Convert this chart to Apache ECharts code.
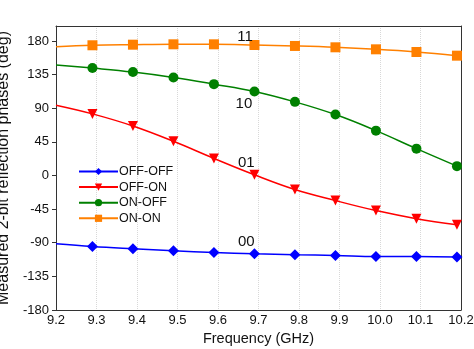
<!DOCTYPE html>
<html><head><meta charset="utf-8">
<script src="https://cdn.jsdelivr.net/npm/echarts@6/dist/echarts.min.js"></script>
<style>html,body{margin:0;padding:0;background:#fff}#c{width:474px;height:349px}</style>
</head><body><div id="c"></div>
<script>
var freqs = [9.2, 9.29, 9.39, 9.49, 9.59, 9.69, 9.79, 9.89, 9.99, 10.09, 10.19];
var offOff = [-91.4, -95, -98, -100.7, -103, -104.8, -106.1, -107, -108.4, -108.4, -109.2];
var offOn = [94, 82.4, 66.2, 45.7, 22.8, 0.9, -18.8, -33.6, -47, -57.8, -65.8];
var onOff = [147.8, 143.7, 138.4, 131.2, 122.2, 112.4, 98.5, 81.5, 60, 35.9, 12.5];
var onOn = [172.3, 174.2, 175, 175.5, 175.5, 174.6, 173.3, 171.5, 168.8, 165.2, 160.3];
var seriesNames = ['OFF-OFF', 'OFF-ON', 'ON-OFF', 'ON-ON'];
var stateLabels = ['00', '01', '10', '11'];
var labelPos = [[9.67, -88.7], [9.67, 17.4], [9.664, 95.4], [9.667, 185.5]];
var xTicks = ['9.2','9.3','9.4','9.5','9.6','9.7','9.8','9.9','10.0','10.1','10.2'];

var colors = ['#0000ff', '#ff0000', '#008000', '#ff8000'];
var symbols = ['diamond', 'triangle', 'circle', 'rect'];
var sizes = [11, 10, 10, 10];
var allData = [offOff, offOn, onOff, onOn];
var font = 'Liberation Sans, Arial, sans-serif';

var series = allData.map(function (vals, i) {
  return {
    name: seriesNames[i], type: 'line', smooth: 0.4,
    symbol: symbols[i], symbolSize: sizes[i], symbolRotate: i === 1 ? 180 : 0,
    color: colors[i], lineStyle: {width: 1.5, color: colors[i]},
    itemStyle: {color: colors[i]},
    data: vals.map(function (v, j) {
      var d = {value: [freqs[j], v]};
      if (j === 0) d.symbol = 'none';
      return d;
    }),
    markPoint: {
      symbol: 'rect', symbolSize: 0, animation: false,
      label: {show: true, formatter: stateLabels[i], color: '#111', fontSize: 15, fontFamily: font, position: 'inside'},
      data: [{coord: labelPos[i], value: stateLabels[i]}]
    },
    animation: false
  };
});

var boxLine = {show: true, onZero: false, lineStyle: {color: '#333', width: 1}};

var chart = echarts.init(document.getElementById('c'));
chart.setOption({
  animation: false,
  grid: {left: 56, top: 26, width: 405, height: 284, show: false, containLabel: false, outerBoundsMode: 'none'},
  legend: {
    orient: 'vertical', left: 73, top: 160, itemWidth: 39, itemHeight: 9, itemGap: 2.6,
    textStyle: {fontSize: 12.5, fontFamily: font, color: '#111', padding: [0, 0, 0, -4]},
    data: seriesNames
  },
  xAxis: [{
    type: 'value', min: 9.2, max: 10.2, interval: 0.1,
    name: 'Frequency (GHz)', nameLocation: 'middle', nameGap: 20,
    nameTextStyle: {fontSize: 14.5, fontFamily: font, color: '#111'},
    axisLine: boxLine,
    axisTick: {show: false},
    axisLabel: {fontSize: 13, fontFamily: font, color: '#111', margin: 4,
      formatter: function (v) { return xTicks[Math.round((v - 9.2) * 10)]; }},
    splitLine: {show: true, lineStyle: {color: '#d8d8d8', type: 'dotted', width: 1}}
  }, {
    type: 'value', min: 9.2, max: 10.2, position: 'top',
    axisLine: boxLine, axisTick: {show: false}, axisLabel: {show: false}, splitLine: {show: false}
  }],
  yAxis: [{
    type: 'value', min: -180, max: 200, interval: 45,
    name: 'Measured 2-bit reflection phases (deg)', nameLocation: 'middle', nameGap: 40,
    nameTextStyle: {fontSize: 16, fontFamily: font, color: '#111'},
    axisLine: boxLine,
    axisTick: {show: true, length: 4, inside: false, lineStyle: {color: '#333'}},
    axisLabel: {fontSize: 13, fontFamily: font, color: '#111', margin: 7, showMaxLabel: false},
    splitLine: {show: false}
  }, {
    type: 'value', min: -180, max: 200, position: 'right',
    axisLine: boxLine, axisTick: {show: false}, axisLabel: {show: false}, splitLine: {show: false}
  }],
  series: series
});
</script></body></html>
